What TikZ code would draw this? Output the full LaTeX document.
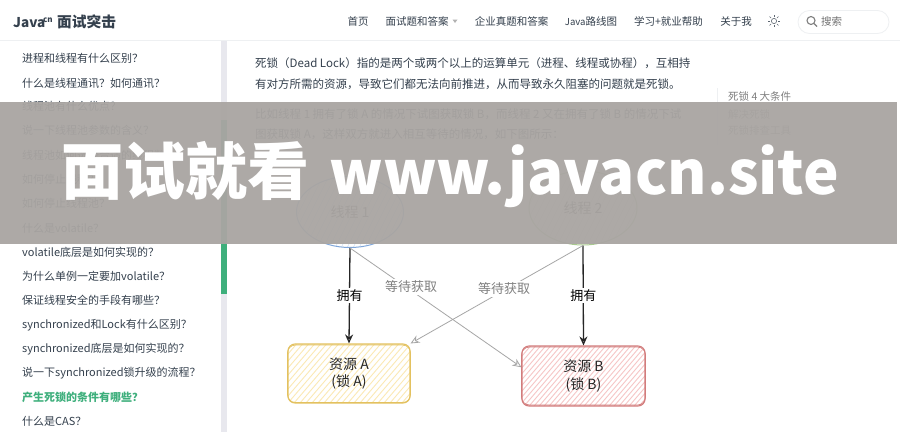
\documentclass[tikz,border=0pt]{standalone}
\usepackage{fontspec}
\setmainfont{Noto Sans CJK SC}
\usetikzlibrary{arrows.meta,shapes.geometric}
\definecolor{txt}{HTML}{34404D}
\definecolor{brand}{HTML}{3EAF7C}
\definecolor{line}{HTML}{EEF0F2}
\definecolor{track}{HTML}{E8E8EE}
\definecolor{veil}{HTML}{A9A5A2}
\definecolor{resAline}{HTML}{E3C15F}
\definecolor{resAhatch}{HTML}{FBE9B4}
\definecolor{resBline}{HTML}{D27C7C}
\definecolor{resBhatch}{HTML}{F6C6C6}
\definecolor{thAline}{HTML}{7FA6DA}
\definecolor{thBline}{HTML}{A9C98F}
\newcommand\fq{\symbol{"FF1F}}
\newcommand\fc{\symbol{"FF0C}}
\newcommand\fl{\symbol{"FF08}}
\newcommand\fr{\symbol{"FF09}}
\newcommand\fk{\symbol{"FF1A}}
\tikzset{
 sideitem/.style={anchor=west,inner sep=0pt,text=txt,font=\fontsize{11}{14}\selectfont},
 navitem/.style={anchor=center,inner sep=0pt,text=txt,font=\fontsize{10.5}{13}\selectfont},
 bodyline/.style={anchor=west,inner sep=0pt,text=txt,font=\fontsize{11.5}{15}\selectfont},
 tocitem/.style={anchor=west,inner sep=0pt,text=black!50,font=\fontsize{10.5}{13}\selectfont},
 threadnode/.style={ellipse,inner sep=0pt,minimum width=107pt,minimum height=71pt,line width=1pt,font=\fontsize{14}{16}\selectfont,text=black!75},
 resnode/.style={rectangle,rounded corners=7pt,inner sep=0pt,minimum width=122pt,minimum height=59pt,line width=1.1pt,align=center,font=\fontsize{14}{17.5}\selectfont,text=black!85},
 ownarrow/.style={-{Stealth[open,length=9pt,width=8pt]},line width=1.3pt,draw=black!85},
 waitarrow/.style={-{Stealth[open,length=9pt,width=8pt]},line width=.8pt,draw=black!35},
 edgetext/.style={fill=white,inner sep=1.5pt,font=\fontsize{13}{15}\selectfont},
 hatch/.style={line width=.9pt},
}
\begin{document}
\begin{tikzpicture}[x=1pt,y=-1pt]
\useasboundingbox (0,0) rectangle (900,432);
\fill[white] (0,0) rectangle (900,432);
% header
\draw[line,line width=.8pt] (0,40.5) -- (900,40.5);
\node[anchor=base west,inner sep=0pt,text=txt,font=\fontsize{13.5}{16}\selectfont\bfseries] (logo) at (13,27) {Java};
\node[anchor=base west,inner sep=0pt,text=txt,font=\fontsize{8}{9}\selectfont\bfseries] (logosup) at (43,22.5) {cn};
\node[anchor=base west,inner sep=0pt,text=txt,font=\fontsize{14.7}{16}\selectfont\bfseries] (logotitle) at (57,27) {面试突击};
\node[navitem] (n1) at (358,21.5) {首页};
\node[navitem] (n2) at (417,21.5) {面试题和答案};
\fill[black!30] (452.5,19.5) -- (457.5,19.5) -- (455,23) -- cycle;
\node[navitem] (n3) at (511.5,21.5) {企业真题和答案};
\node[navitem] (n4) at (591,21.5) {{\fontsize{9.6}{13}\selectfont Java}路线图};
\node[navitem] (n5) at (668.5,21.5) {学习+就业帮助};
\node[navitem] (n6) at (736,21.5) {关于我};
\draw[txt!80,line width=.6pt] (774,21) circle (2.6);
\foreach \a in {0,45,...,315}{\draw[txt!80,line width=.6pt] (774,21)++(\a:4.2) -- ++(\a:2);}
\draw[line,line width=.8pt] (809.5,10.5) -- (877.5,10.5) arc (-90:90:11.5) -- (809.5,33.5) arc (90:270:11.5) -- cycle;
\draw[black!50,line width=1.1pt] (811,20.5) circle (4);
\draw[black!50,line width=1.3pt] (814,23.5) -- (817,26.5);
\node[anchor=west,inner sep=0pt,text=black!55,font=\fontsize{10.5}{13}\selectfont] (search) at (821,21.5) {搜索};
% sidebar
\fill[track] (221,41) rectangle (226.5,432);
\fill[brand] (221,120) rectangle (226.5,294);
\foreach \y/\t in {58/进程和线程有什么区别\fq,83/什么是线程通讯\fq 如何通讯\fq,106/线程池有什么优点\fq,130/说一下线程池参数的含义\fq,155/线程池如何选择合适的线程数\fq,179/如何停止线程\fq,203/如何停止线程池\fq,228/什么是volatile\fq,252/volatile底层是如何实现的\fq,276/为什么单例一定要加volatile\fq,300/保证线程安全的手段有哪些\fq,325/synchronized和Lock有什么区别\fq,349/synchronized底层是如何实现的\fq,373/说一下synchronized锁升级的流程\fq,421/什么是CAS\fq}
 {\node[sideitem] at (22,\y) {\t};}
\node[sideitem,text=brand,font=\fontsize{11}{14}\selectfont\bfseries] (cur) at (22,397) {产生死锁的条件有哪些\fq};
% body
\node[bodyline] (l1) at (255,63) {死锁\fl Dead Lock\fr 指的是两个或两个以上的运算单元\fl 进程、线程或协程\fr\fc 互相持};
\node[bodyline] (l2) at (255,84) {有对方所需的资源\fc 导致它们都无法向前推进\fc 从而导致永久阻塞的问题就是死锁。};
\node[bodyline] (l3) at (255,114) {比如线程 1 拥有了锁 A 的情况下试图获取锁 B\fc 而线程 2 又在拥有了锁 B 的情况下试};
\node[bodyline] (l4) at (255,134) {图获取锁 A\fc 这样双方就进入相互等待的情况\fc 如下图所示\fk};
% toc
\draw[line,line width=.8pt] (717,88) -- (717,145);
\node[tocitem] (t1) at (728,96) {死锁 4 大条件};
\node[tocitem] (t2) at (728,114) {解决死锁};
\node[tocitem] (t3) at (728,130) {死锁排查工具};
% diagram
\begin{scope}
\clip (350,212) ellipse (53 and 35);
\foreach \i in {-80,-74,...,120}{\draw[line width=.6pt,draw=thAline!35] (300+\i,250) -- (340+\i,170);}
\end{scope}
\begin{scope}
\clip (583,208) ellipse (54 and 37);
\foreach \i in {-80,-74,...,120}{\draw[line width=.6pt,draw=thBline!35] (533+\i,250) -- (573+\i,170);}
\end{scope}
\node[threadnode,draw=thAline] (th1) at (350,212) {线程 1};
\node[threadnode,draw=thBline,minimum width=108pt,minimum height=74pt] (th2) at (583,208) {线程 2};
\begin{scope}
\clip[rounded corners=7pt] (288,344) rectangle (410,403);
\foreach \i in {-70,-64,...,130}{\draw[hatch,draw=resAhatch] (280+\i,410) -- (340+\i,340);}
\end{scope}
\begin{scope}
\clip[rounded corners=7pt] (522,346) rectangle (645,406);
\foreach \i in {-70,-65,...,130}{\draw[hatch,draw=resBhatch] (514+\i,412) -- (574+\i,342);}
\end{scope}
\node[resnode,draw=resAline] (ra) at (349,373.5) {资源 A\\(锁 A)};
\node[resnode,draw=resBline,minimum width=123pt,minimum height=60pt] (rb) at (583.5,376) {资源 B\\(锁 B)};
\draw[resAline,line width=.7pt,rounded corners=8pt] (287.5,345) rectangle (410.5,402.5);
\draw[resBline,line width=.7pt,rounded corners=8pt] (521.5,347) rectangle (645.5,405);
\draw[ownarrow] (th1.south) -- node[edgetext,text=black] {拥有} (ra.north);
\draw[ownarrow] (th2.south) -- node[edgetext,text=black] {拥有} (rb.north);
\draw[waitarrow] (th1.south) -- (rb.172);
\draw[waitarrow] (th2.south) -- (ra.north east);
\node[edgetext,text=black!50] (w1) at (411,287) {等待获取};
\node[edgetext,text=black!50] (w2) at (504,289) {等待获取};
% banner
\fill[veil,opacity=.95] (0,102) rectangle (897,244);
\node[anchor=base west,inner sep=0pt,text=white,font=\fontsize{60}{64}\selectfont\bfseries] (bn) at (61,194) {{\fontsize{62}{64}\selectfont 面试就看}\hspace{20pt}www.javacn.site};
\end{tikzpicture}
\end{document}
